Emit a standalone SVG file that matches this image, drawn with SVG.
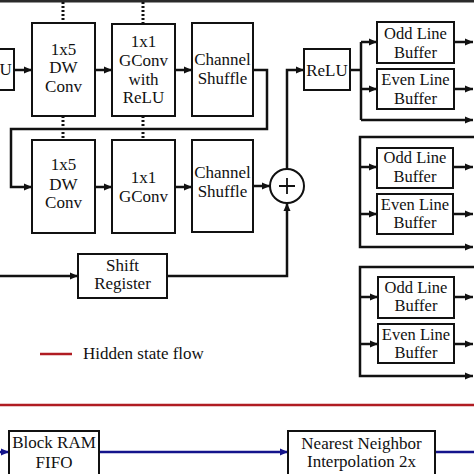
<svg xmlns="http://www.w3.org/2000/svg" width="474" height="474" viewBox="0 0 474 474">
<style>
.box{fill:#fff;stroke:#111;stroke-width:2}
.t{font-family:"Liberation Serif","Times New Roman",serif;font-size:17px;fill:#111;text-anchor:middle}
.s{font-size:16.5px}
.c{fill:none;stroke:#111;stroke-width:2.5}
.ca{fill:none;stroke:#111;stroke-width:2.5;marker-end:url(#ah)}
.dot{fill:none;stroke:#111;stroke-width:3;stroke-dasharray:2 2}
.b{fill:none;stroke:#14148c;stroke-width:2.5}
.ba{fill:none;stroke:#14148c;stroke-width:2.5;marker-end:url(#bh)}
</style>
<defs>
<marker id="ah" markerUnits="userSpaceOnUse" markerWidth="9" markerHeight="8" refX="8" refY="4" orient="auto"><path d="M0,0.5 L8,4 L0,7.5 Z" fill="#111"/></marker>
<marker id="bh" markerUnits="userSpaceOnUse" markerWidth="9" markerHeight="8" refX="8" refY="4" orient="auto"><path d="M0,0.5 L8,4 L0,7.5 Z" fill="#14148c"/></marker>
</defs>
<rect x="0" y="0" width="474" height="474" fill="#fff"/>
<line x1="0" y1="1" x2="474" y2="1" stroke="#2a2a2a" stroke-width="3"/>

<g id="connectors">
<line class="dot" x1="63" y1="2" x2="63" y2="23"/>
<line class="dot" x1="143" y1="2" x2="143" y2="24"/>
<line class="dot" x1="63" y1="116" x2="63" y2="140"/>
<line class="dot" x1="143" y1="116" x2="143" y2="140"/>
<path class="ca" d="M14,70 H32"/>
<path class="ca" d="M95,70 H112"/>
<path class="ca" d="M175,70 H192"/>
<path class="ca" d="M253,70 H267 V129 H11 V187 H32"/>
<path class="ca" d="M95,187 H112"/>
<path class="ca" d="M175,187 H192"/>
<path class="ca" d="M253,186 H270"/>
<path class="ca" d="M0,276 H78"/>
<path class="ca" d="M167,276 H287 V203"/>
<path class="ca" d="M287,169 V70 H304"/>
<path class="c" d="M350,70 H361"/>
<path class="c" d="M361,42 V120"/>
<path class="ca" d="M361,42 H377"/>
<path class="ca" d="M361,89 H377"/>
<path class="ca" d="M361,120 H473"/>
<path class="ca" d="M454,42 H473"/>
<path class="ca" d="M454,89 H473"/>
<path class="ca" d="M474,137 H360 V247 H473"/>
<path class="ca" d="M360,167 H377"/>
<path class="ca" d="M360,214 H377"/>
<path class="ca" d="M453,167 H473"/>
<path class="ca" d="M453,214 H473"/>
<path class="ca" d="M474,267 H360 V376 H473"/>
<path class="ca" d="M360,297 H378"/>
<path class="ca" d="M360,344 H378"/>
<path class="ca" d="M454,297 H473"/>
<path class="ca" d="M454,344 H473"/>
<path class="ba" d="M0,452 H9"/>
<path class="ba" d="M99,452 H288"/>
<path class="b" d="M435,452 H474"/>
</g>

<g id="relu1"><rect class="box" x="-32" y="49" width="46" height="41"/><text class="t" x="-9" y="75">ReLU</text></g>
<g id="dwconv1"><rect class="box" x="32" y="23" width="63" height="93"/><text class="t" x="63.5" y="55">1x5</text><text class="t" x="63.5" y="73">DW</text><text class="t" x="63.5" y="92">Conv</text></g>
<g id="gconv1"><rect class="box" x="112" y="24" width="63" height="92"/><text class="t" x="143.5" y="47">1x1</text><text class="t" x="143.5" y="66">GConv</text><text class="t" x="143.5" y="85">with</text><text class="t" x="143.5" y="103">ReLU</text></g>
<g id="shuffle1"><rect class="box" x="192" y="23" width="61" height="93"/><text class="t" x="222.5" y="65">Channel</text><text class="t" x="222.5" y="84">Shuffle</text></g>
<g id="relu2"><rect class="box" x="304" y="49" width="46" height="41"/><text class="t" x="327" y="76">ReLU</text></g>
<g id="odd1"><rect class="box" x="377" y="22" width="77" height="41"/><text class="t s" x="415.5" y="39">Odd Line</text><text class="t s" x="415.5" y="58">Buffer</text></g>
<g id="even1"><rect class="box" x="377" y="69" width="77" height="40"/><text class="t s" x="415.5" y="85">Even Line</text><text class="t s" x="415.5" y="104">Buffer</text></g>

<g id="dwconv2"><rect class="box" x="32" y="140" width="63" height="93"/><text class="t" x="63.5" y="170">1x5</text><text class="t" x="63.5" y="190">DW</text><text class="t" x="63.5" y="208">Conv</text></g>
<g id="gconv2"><rect class="box" x="112" y="140" width="63" height="93"/><text class="t" x="143.5" y="183">1x1</text><text class="t" x="143.5" y="202">GConv</text></g>
<g id="shuffle2"><rect class="box" x="192" y="140" width="61" height="92"/><text class="t" x="222.5" y="178">Channel</text><text class="t" x="222.5" y="197">Shuffle</text></g>
<g id="sum"><circle cx="287" cy="186" r="17" fill="#fff" stroke="#111" stroke-width="2"/><path d="M279,186 H295 M287,178 V194" stroke="#111" stroke-width="1.8"/></g>

<g id="odd2"><rect class="box" x="377" y="148" width="76" height="40"/><text class="t s" x="415" y="163">Odd Line</text><text class="t s" x="415" y="182">Buffer</text></g>
<g id="even2"><rect class="box" x="377" y="194" width="76" height="40"/><text class="t s" x="415" y="210">Even Line</text><text class="t s" x="415" y="228">Buffer</text></g>

<g id="shiftreg"><rect class="box" x="78" y="254" width="89" height="44"/><text class="t" x="122.5" y="271">Shift</text><text class="t" x="122.5" y="289">Register</text></g>

<g id="odd3"><rect class="box" x="378" y="277" width="76" height="41"/><text class="t s" x="416" y="293">Odd Line</text><text class="t s" x="416" y="311">Buffer</text></g>
<g id="even3"><rect class="box" x="378" y="324" width="76" height="39"/><text class="t s" x="416" y="340">Even Line</text><text class="t s" x="416" y="358">Buffer</text></g>

<g id="legend"><line x1="40" y1="354" x2="72" y2="354" stroke="#b01c22" stroke-width="2.5"/><text class="t" x="83" y="359" style="text-anchor:start">Hidden state flow</text></g>

<line x1="0" y1="405" x2="474" y2="405" stroke="#b01c22" stroke-width="2.5"/>

<g id="bram"><rect class="box" x="9" y="431" width="90" height="50"/><text class="t" x="54" y="448">Block RAM</text><text class="t" x="54" y="468">FIFO</text></g>
<g id="nn"><rect class="box" x="288" y="431" width="147" height="50"/><text class="t" x="361.5" y="449">Nearest Neighbor</text><text class="t" x="361.5" y="467">Interpolation 2x</text></g>
</svg>
